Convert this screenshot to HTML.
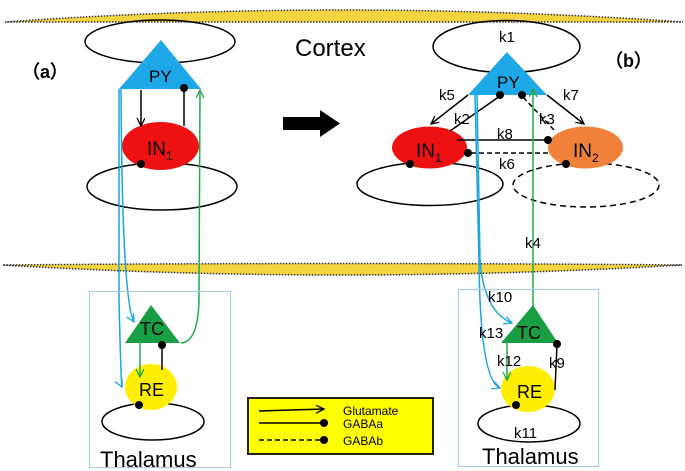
<!DOCTYPE html>
<html><head><meta charset="utf-8"><style>
html,body{margin:0;padding:0;background:#fff;}
svg{display:block;font-family:"Liberation Sans","DejaVu Sans",sans-serif;}
</style></head><body>
<svg width="685" height="471" viewBox="0 0 685 471" xmlns="http://www.w3.org/2000/svg">
<defs>
<marker id="ab" markerWidth="10" markerHeight="10" refX="8" refY="4" orient="auto" markerUnits="userSpaceOnUse"><path d="M0,0 L8,4 L0,8" fill="none" stroke="#000" stroke-width="1.3"/></marker>
<marker id="abl" markerWidth="10" markerHeight="10" refX="8" refY="4" orient="auto" markerUnits="userSpaceOnUse"><path d="M0,0 L8,4 L0,8" fill="none" stroke="#1aa3e0" stroke-width="1.3"/></marker>
<marker id="ag" markerWidth="10" markerHeight="10" refX="8" refY="4" orient="auto" markerUnits="userSpaceOnUse"><path d="M0,0 L8,4 L0,8" fill="none" stroke="#1faa4a" stroke-width="1.3"/></marker>
</defs>
<!-- membranes -->
<path d="M5,22 Q340,-2 683,22 Q340,22 5,22 Z" fill="#f5d442" stroke="#333" stroke-width="1.5" stroke-dasharray="1.5,1.5"/>
<path d="M3,265 Q340,285 682,265 Q340,262 3,265 Z" fill="#f5d442" stroke="#333" stroke-width="1.5" stroke-dasharray="1.5,1.5"/>
<text x="295" y="56" font-size="24">Cortex</text>
<text x="22" y="78" font-size="18" font-weight="bold">（a）</text>
<text x="605" y="67" font-size="18" font-weight="bold">（b）</text>
<path d="M283,117 L320,117 L320,110 L340,123.5 L320,137 L320,130 L283,130 Z" fill="#000"/>

<!-- (a) cortex -->
<ellipse cx="160" cy="41.5" rx="75" ry="21.5" fill="none" stroke="#000" stroke-width="1.5"/>
<ellipse cx="162" cy="186.5" rx="75" ry="23.5" fill="none" stroke="#000" stroke-width="1.5"/>
<polygon points="161,40 119,89 201,89" fill="#1ea8e8"/>
<text x="149" y="82" font-size="17">PY</text>
<ellipse cx="160.5" cy="146" rx="38.5" ry="24" fill="#ee1111"/>
<text x="147" y="155" font-size="19">IN<tspan font-size="12" dy="5">1</tspan></text>
<line x1="141" y1="90" x2="141" y2="126" stroke="#000" stroke-width="1.5" marker-end="url(#ab)"/>
<line x1="184" y1="126" x2="184" y2="89" stroke="#000" stroke-width="1.5"/>
<circle cx="184" cy="88" r="4" fill="#000"/>
<circle cx="141" cy="164" r="4" fill="#000"/>
<path d="M119,89 L119,300 Q121,385 122,387" fill="none" stroke="#1aa3e0" stroke-width="1.5" marker-end="url(#abl)"/>
<path d="M121,89 Q122,300 134,322" fill="none" stroke="#1aa3e0" stroke-width="1.5" marker-end="url(#abl)"/>
<path d="M181,343 Q198,342 199,300 L200,90" fill="none" stroke="#1faa4a" stroke-width="1.5" marker-end="url(#ag)"/>

<!-- (a) thalamus -->
<rect x="89.5" y="291.5" width="141" height="176" fill="none" stroke="#a8cbe8" stroke-width="1.2"/>
<ellipse cx="153" cy="421.5" rx="51" ry="18.5" fill="none" stroke="#000" stroke-width="1.5"/>
<ellipse cx="151" cy="387" rx="26" ry="23" fill="#ffee00"/>
<polygon points="151,305 125,343 180,343" fill="#1a9e45"/>
<text x="140" y="335" font-size="18">TC</text>
<text x="139" y="396" font-size="18">RE</text>
<line x1="140" y1="343" x2="140" y2="377" stroke="#1faa4a" stroke-width="1.5" marker-end="url(#ag)"/>
<line x1="162" y1="345" x2="162" y2="370" stroke="#000" stroke-width="1.5"/>
<circle cx="162" cy="345" r="4" fill="#000"/>
<circle cx="139" cy="405" r="4" fill="#000"/>
<text x="100" y="467" font-size="22">Thalamus</text>

<!-- legend -->
<rect x="248" y="398" width="185" height="56" fill="#ffff00" stroke="#222" stroke-width="2"/>
<line x1="259" y1="411" x2="324" y2="409" stroke="#000" stroke-width="1.5" marker-end="url(#ab)"/>
<line x1="259" y1="423" x2="323" y2="423" stroke="#000" stroke-width="1.5"/>
<circle cx="324" cy="423" r="4" fill="#000"/>
<line x1="259" y1="440" x2="323" y2="440" stroke="#000" stroke-width="1.5" stroke-dasharray="5,3"/>
<circle cx="324" cy="440" r="4" fill="#000"/>
<text x="343" y="415" font-size="12">Glutamate</text>
<text x="343" y="428" font-size="12">GABAa</text>
<text x="343" y="445" font-size="12">GABAb</text>

<!-- (b) cortex -->
<ellipse cx="506.5" cy="46.5" rx="73.5" ry="26" fill="none" stroke="#000" stroke-width="1.5"/>
<ellipse cx="430" cy="184" rx="73" ry="21.5" fill="none" stroke="#000" stroke-width="1.5"/>
<ellipse cx="586" cy="185" rx="73" ry="22" fill="none" stroke="#000" stroke-width="1.5" stroke-dasharray="6,4"/>
<polygon points="507,52 468,95 547,95" fill="#1ea8e8"/>
<text x="497" y="88" font-size="17">PY</text>
<ellipse cx="429.5" cy="147.5" rx="37.5" ry="21" fill="#ee1111"/>
<ellipse cx="585.5" cy="147.5" rx="37.5" ry="21" fill="#f0813a"/>
<text x="416" y="157" font-size="19">IN<tspan font-size="12" dy="5">1</tspan></text>
<text x="573" y="157" font-size="19">IN<tspan font-size="12" dy="5">2</tspan></text>
<line x1="468" y1="95" x2="431" y2="124" stroke="#000" stroke-width="1.5" marker-end="url(#ab)"/>
<line x1="547" y1="95" x2="584" y2="124" stroke="#000" stroke-width="1.5" marker-end="url(#ab)"/>
<line x1="450" y1="131" x2="500" y2="96" stroke="#000" stroke-width="1.5"/>
<circle cx="500" cy="95" r="4" fill="#000"/>
<line x1="554" y1="130" x2="522" y2="96" stroke="#000" stroke-width="1.5" stroke-dasharray="5,3"/>
<circle cx="522" cy="95" r="4" fill="#000"/>
<line x1="457" y1="140" x2="547" y2="140" stroke="#000" stroke-width="1.5"/>
<circle cx="548" cy="140" r="4" fill="#000"/>
<line x1="548" y1="153" x2="469" y2="153" stroke="#000" stroke-width="1.5" stroke-dasharray="5,3"/>
<circle cx="468" cy="153" r="4" fill="#000"/>
<circle cx="410" cy="164" r="4" fill="#000"/>
<circle cx="566" cy="164" r="4" fill="#000"/>
<path d="M477,95 L480,260 Q484,312 512,323" fill="none" stroke="#1aa3e0" stroke-width="1.5" marker-end="url(#abl)"/>
<path d="M475,95 L479,260 Q480,380 500,388" fill="none" stroke="#1aa3e0" stroke-width="1.5" marker-end="url(#abl)"/>
<line x1="533" y1="312" x2="533" y2="89" stroke="#1faa4a" stroke-width="1.5" marker-end="url(#ag)"/>
<g font-size="15">
<text x="499" y="42">k1</text>
<text x="439" y="100">k5</text>
<text x="454" y="124">k2</text>
<text x="563" y="100">k7</text>
<text x="539" y="124">k3</text>
<text x="497" y="139">k8</text>
<text x="499" y="169">k6</text>
<text x="525" y="248">k4</text>
</g>

<!-- (b) thalamus -->
<rect x="458.5" y="289.5" width="140" height="177" fill="none" stroke="#a8cbe8" stroke-width="1.2"/>
<ellipse cx="529" cy="423.5" rx="51" ry="18.5" fill="none" stroke="#000" stroke-width="1.5"/>
<ellipse cx="528" cy="389" rx="27" ry="23" fill="#ffee00"/>
<polygon points="533,305 501,343 558,343" fill="#1a9e45"/>
<text x="517" y="339" font-size="18">TC</text>
<text x="517" y="398" font-size="18">RE</text>
<line x1="507" y1="343" x2="507" y2="380" stroke="#1faa4a" stroke-width="1.5" marker-end="url(#ag)"/>
<line x1="557" y1="345" x2="555" y2="390" stroke="#000" stroke-width="1.5"/>
<circle cx="557" cy="344" r="4" fill="#000"/>
<circle cx="516" cy="405" r="4" fill="#000"/>
<g font-size="15">
<text x="488" y="302">k10</text>
<text x="479" y="338">k13</text>
<text x="497" y="366">k12</text>
<text x="549" y="368">k9</text>
<text x="514" y="438">k11</text>
</g>
<text x="482" y="464" font-size="22">Thalamus</text>
</svg>
</body></html>
